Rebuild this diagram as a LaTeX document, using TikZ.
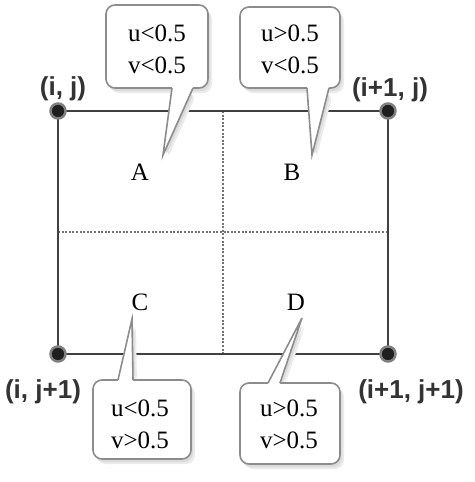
\documentclass[tikz,border=0pt]{standalone}
\usepackage{fontspec}
\setmainfont{Liberation Serif}
\newfontfamily\labfont{Liberation Sans}
% #1 x1, #2 x2, #3 pointer edge y, #4 other edge y, #5 edge y moved inside, #6 base left, #7 base right, #8 tip
\newcommand\mycallout[8]{%
  \begin{scope}[shift={(4,5)}]
    \fill[shadowfar] (#1,#3) rectangle (#2,#4);
    \fill[shadowfar] (#6,#3) -- #8 -- (#7,#3) -- cycle;
  \end{scope}
  \begin{scope}[shift={(2,3)}]
    \fill[shadownear] (#1,#3) rectangle (#2,#4);
    \fill[shadownear] (#6,#3) -- #8 -- (#7,#3) -- cycle;
  \end{scope}
  \filldraw[callbox] (#1,#3) rectangle (#2,#4);
  \fill[white] (#6,#5) -- (#6,#3) -- #8 -- (#7,#3) -- (#7,#5) -- cycle;
  \draw[callline] (#6,#3) -- #8 -- (#7,#3);
}
\begin{document}
\begin{tikzpicture}[x=1pt,y=-1pt,
  frame/.style={draw=black!75, line width=2pt},
  gridline/.style={draw=black!55, line width=1.4pt, dash pattern=on 2pt off 1.6pt},
  dot/.style={circle, fill=black!88, draw=black!50, line width=2.5pt, minimum size=15pt, inner sep=0pt},
  corner/.style={font=\labfont\bfseries\fontsize{26}{28}\selectfont, text=black!80},
  region/.style={font=\fontsize{25}{30}\selectfont},
  calltext/.style={font=\fontsize{25}{32}\selectfont, align=center, inner sep=0pt},
  callbox/.style={draw=black!45, line width=1.6pt, fill=white, rounded corners=9pt},
  callline/.style={draw=black!45, line width=1.6pt, line join=miter},
  shadowfar/.style={fill=black!8, rounded corners=9pt},
  shadownear/.style={fill=black!14, rounded corners=9pt},
]
\useasboundingbox (0,0) rectangle (474,482);

% grid
\coordinate (tl) at (58,111);
\coordinate (tr) at (388,111);
\coordinate (bl) at (58,354);
\coordinate (br) at (388,354);
\coordinate (mt) at (223,111);
\coordinate (mb) at (223,354);
\coordinate (ml) at (58,232);
\coordinate (mr) at (388,232);
\draw[gridline] (mt) -- (mb);
\draw[gridline] (ml) -- (mr);
\draw[frame] (tl) rectangle (br);

% callouts
\mycallout{106}{208}{88}{5}{85}{172}{193}{(163,155)}
\mycallout{240}{340}{88}{7}{85}{307}{329}{(312,155)}
\mycallout{93}{191}{380}{459}{383}{118}{133}{(132,319)}
\mycallout{240}{340}{383}{464}{386}{268}{280}{(302,318)}

\node[calltext] (ta) at (157,49) {u<0.5\\v<0.5};
\node[calltext] (tb) at (290,49) {u>0.5\\v<0.5};
\node[calltext] (tc) at (140,424) {u<0.5\\v>0.5};
\node[calltext] (td) at (289,424) {u>0.5\\v>0.5};

% corner dots
\node[dot] (dtl) at (tl) {};
\node[dot] (dtr) at (tr) {};
\node[dot] (dbl) at (bl) {};
\node[dot] (dbr) at (br) {};

% corner labels
\node[corner] (ltl) at (63,89) {(i, j)};
\node[corner] (ltr) at (390,90) {(i+1, j)};
\node[corner] (lbl) at (43,392) {(i, j+1)};
\node[corner] (lbr) at (411,392) {(i+1, j+1)};

% region letters
\node[region] (ra) at (140,172) {A};
\node[region] (rb) at (292,172) {B};
\node[region] (rc) at (140,302) {C};
\node[region] (rd) at (296,302) {D};
\end{tikzpicture}
\end{document}
